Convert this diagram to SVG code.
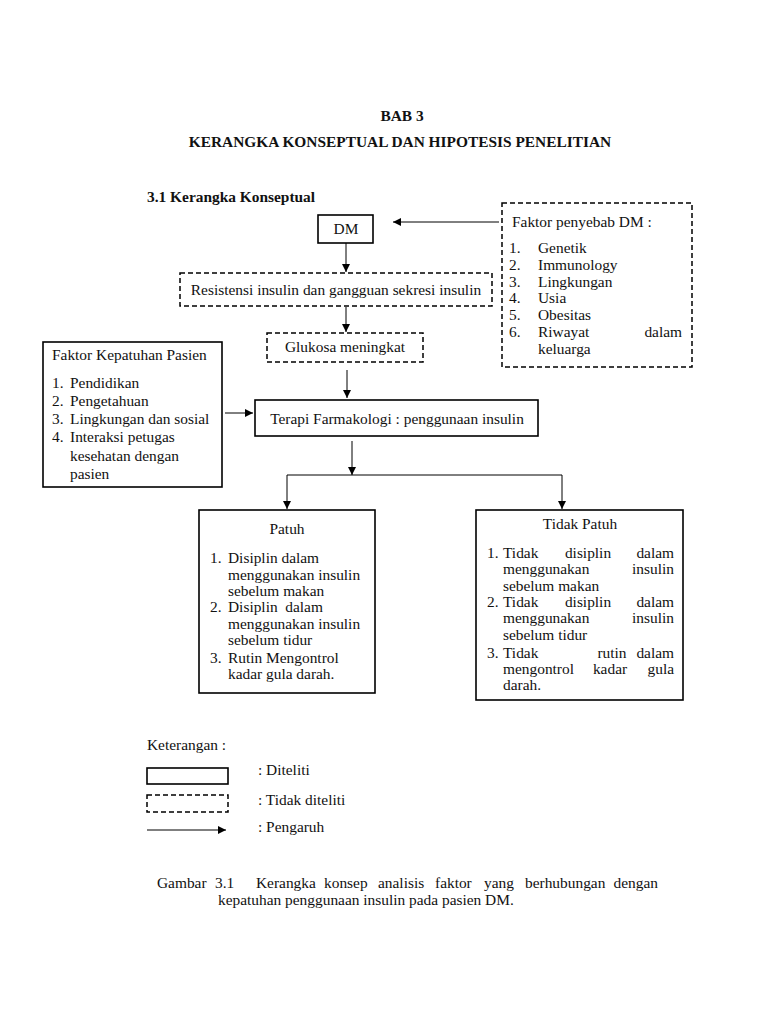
<svg xmlns="http://www.w3.org/2000/svg" width="768" height="1024" viewBox="0 0 768 1024">
<defs>
<marker id="ah" viewBox="0 0 10 10" refX="10" refY="5" markerWidth="8" markerHeight="8" markerUnits="userSpaceOnUse" orient="auto">
<path d="M0,0 L10,5 L0,10 z" fill="#000"/>
</marker>
<style>
text{font-family:"Liberation Serif","Times New Roman",serif;font-size:15.4px;fill:#111;}
.b{font-weight:bold;}
.solid{fill:#fff;stroke:#000;stroke-width:1.6;}
.dash{fill:#fff;stroke:#000;stroke-width:1.5;stroke-dasharray:5,3;}
.ln{fill:none;stroke:#000;stroke-width:1;}
.ar{fill:none;stroke:#000;stroke-width:1;marker-end:url(#ah);}
.m{text-anchor:middle;}
.e{text-anchor:end;}
</style>
</defs>
<rect width="768" height="1024" fill="#fff"/>

<text class="b m" x="402" y="121">BAB 3</text>
<text class="b m" x="400" y="147">KERANGKA KONSEPTUAL DAN HIPOTESIS PENELITIAN</text>
<text class="b" x="147" y="202">3.1 Kerangka Konseptual</text>

<g id="connectors">
<line class="ar" x1="499" y1="222" x2="393" y2="222"/>
<line class="ar" x1="346" y1="243" x2="346" y2="272"/>
<line class="ar" x1="346" y1="307" x2="346" y2="332"/>
<line class="ar" x1="347" y1="370" x2="347" y2="398"/>
<line class="ar" x1="225" y1="413" x2="253" y2="413"/>
<line class="ar" x1="352" y1="441" x2="352" y2="475"/>
<polyline class="ln" points="287,475 562,475"/>
<line class="ar" x1="287" y1="475" x2="287" y2="509"/>
<line class="ar" x1="562" y1="475" x2="562" y2="509"/>
</g>

<g id="dm">
<rect class="solid" x="318" y="215" width="55" height="28"/>
<text class="m" x="346" y="234">DM</text>
</g>

<g id="resistensi">
<rect class="dash" x="180" y="273" width="312" height="33"/>
<text class="m" x="336" y="295">Resistensi insulin dan gangguan sekresi insulin</text>
</g>

<g id="glukosa">
<rect class="dash" x="267" y="333" width="156" height="29"/>
<text class="m" x="345" y="352">Glukosa meningkat</text>
</g>

<g id="faktor-penyebab">
<rect class="dash" x="502" y="203" width="190" height="164"/>
<text x="512" y="227">Faktor penyebab DM :</text>
<text x="509" y="253">1.</text><text x="538" y="253">Genetik</text>
<text x="509" y="270">2.</text><text x="538" y="270">Immunology</text>
<text x="509" y="287">3.</text><text x="538" y="287">Lingkungan</text>
<text x="509" y="303">4.</text><text x="538" y="303">Usia</text>
<text x="509" y="320">5.</text><text x="538" y="320">Obesitas</text>
<text x="509" y="337">6.</text><text x="538" y="337">Riwayat</text><text class="e" x="682" y="337">dalam</text>
<text x="538" y="354">keluarga</text>
</g>

<g id="faktor-kepatuhan">
<rect class="solid" x="43" y="342" width="179" height="145"/>
<text x="52" y="360">Faktor Kepatuhan Pasien</text>
<text x="52" y="388">1.</text><text x="70" y="388">Pendidikan</text>
<text x="52" y="406">2.</text><text x="70" y="406">Pengetahuan</text>
<text x="52" y="424">3.</text><text x="70" y="424">Lingkungan dan sosial</text>
<text x="52" y="442">4.</text><text x="70" y="442">Interaksi petugas</text>
<text x="70" y="461">kesehatan dengan</text>
<text x="70" y="479">pasien</text>
</g>

<g id="terapi">
<rect class="solid" x="255" y="400" width="283" height="36"/>
<text class="m" x="397" y="424">Terapi Farmakologi : penggunaan insulin</text>
</g>

<g id="patuh">
<rect class="solid" x="199" y="510" width="176" height="183"/>
<text class="m" x="287" y="534">Patuh</text>
<text x="210" y="563">1.</text><text x="228" y="563">Disiplin dalam</text>
<text x="228" y="580">menggunakan insulin</text>
<text x="228" y="596">sebelum makan</text>
<text x="210" y="612">2.</text><text x="228" y="612" xml:space="preserve">Disiplin  dalam</text>
<text x="228" y="629">menggunakan insulin</text>
<text x="228" y="645">sebelum tidur</text>
<text x="210" y="663">3.</text><text x="228" y="663">Rutin Mengontrol</text>
<text x="228" y="679">kadar gula darah.</text>
</g>

<g id="tidak-patuh">
<rect class="solid" x="476" y="510" width="207" height="190"/>
<text class="m" x="580" y="529">Tidak Patuh</text>
<text x="487" y="558">1.</text><text x="503" y="558">Tidak</text><text class="m" x="588" y="558">disiplin</text><text class="e" x="674" y="558">dalam</text>
<text x="503" y="574">menggunakan</text><text class="e" x="674" y="574">insulin</text>
<text x="503" y="591">sebelum makan</text>
<text x="487" y="607">2.</text><text x="503" y="607">Tidak</text><text class="m" x="588" y="607">disiplin</text><text class="e" x="674" y="607">dalam</text>
<text x="503" y="623">menggunakan</text><text class="e" x="674" y="623">insulin</text>
<text x="503" y="640">sebelum tidur</text>
<text x="487" y="658">3.</text><text x="503" y="658">Tidak</text><text class="m" x="612" y="658">rutin</text><text class="e" x="674" y="658">dalam</text>
<text x="503" y="674">mengontrol</text><text class="m" x="610" y="674">kadar</text><text class="e" x="674" y="674">gula</text>
<text x="503" y="690">darah.</text>
</g>

<g id="legend">
<text x="147" y="750">Keterangan :</text>
<rect class="solid" x="147" y="768" width="81" height="16"/>
<text x="258" y="775">: Diteliti</text>
<rect class="dash" x="147" y="795" width="81" height="17"/>
<text x="258" y="805">: Tidak diteliti</text>
<line class="ar" x1="147" y1="830" x2="226" y2="830"/>
<text x="258" y="832">: Pengaruh</text>
</g>

<g id="caption">
<text x="157" y="888">Gambar</text>
<text x="215" y="888">3.1</text>
<text x="256" y="888">Kerangka</text>
<text x="324" y="888">konsep</text>
<text x="378" y="888">analisis</text>
<text x="435" y="888">faktor</text>
<text x="484" y="888">yang</text>
<text x="525" y="888">berhubungan</text>
<text class="e" x="658" y="888">dengan</text>
<text x="218" y="905">kepatuhan penggunaan insulin pada pasien DM.</text>
</g>
</svg>
